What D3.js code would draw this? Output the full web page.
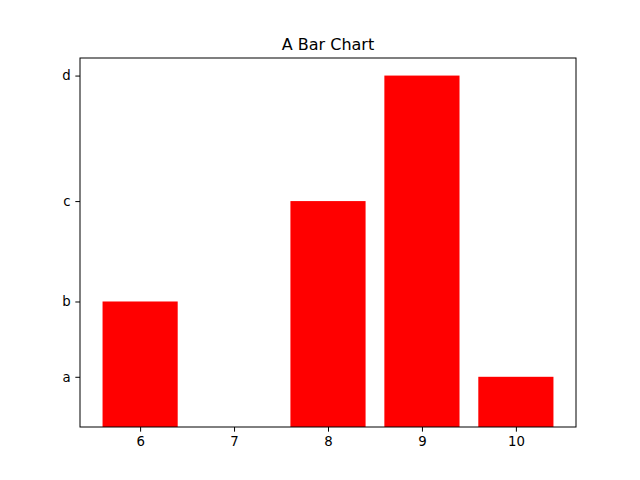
<!DOCTYPE html>
<html>
<head>
<meta charset="utf-8">
<script src="https://cdn.jsdelivr.net/npm/d3@7"></script>
<style>
  body { margin: 0; background: #fff; }
  svg { display: block; }
  text { font-family: "DejaVu Sans", sans-serif; }
</style>
</head>
<body>
<script>
const categories = [6, 7, 8, 9, 10];
const values = [5, 0, 9, 14, 2];
const yTickValues = [2, 5, 9, 14];
const yTickLabels = ["a", "b", "c", "d"];
const xTickValues = [6, 7, 8, 9, 10];
const title = "A Bar Chart";

const W = 640, H = 480;
const m = { left: 80, right: 64, top: 58, bottom: 53 };
const iw = W - m.left - m.right, ih = H - m.top - m.bottom;

const svg = d3.select("body").append("svg").attr("width", W).attr("height", H);
const g = svg.append("g").attr("transform", `translate(${m.left},${m.top})`);

const barW = 0.8;
const xmin = d3.min(categories) - barW / 2, xmax = d3.max(categories) + barW / 2;
const xpad = (xmax - xmin) * 0.05;
const x = d3.scaleLinear().domain([xmin - xpad, xmax + xpad]).range([0, iw]);
const y = d3.scaleLinear().domain([0, d3.max(values) * 1.05]).range([ih, 0]);

g.selectAll("rect.bar").data(categories).enter().append("rect")
  .attr("class", "bar")
  .attr("x", d => x(d - barW / 2))
  .attr("width", d => x(d + barW / 2) - x(d - barW / 2))
  .attr("y", (d, i) => y(values[i]))
  .attr("height", (d, i) => y(0) - y(values[i]))
  .attr("fill", "#ff0000");

const tickLen = 4.67, pad = 4.67, fs = 13.3;

const xAxis = d3.axisBottom(x).tickValues(xTickValues).tickSize(tickLen).tickPadding(pad).tickFormat(d3.format("d"));
const xa = g.append("g").attr("transform", `translate(0,${ih})`).call(xAxis);
const yAxis = d3.axisLeft(y).tickValues(yTickValues).tickSize(tickLen).tickPadding(pad).tickFormat((d, i) => yTickLabels[i]);
const ya = g.append("g").call(yAxis);
[xa, ya].forEach(a => {
  a.select(".domain").remove();
  a.selectAll("line").attr("stroke", "#000").attr("stroke-width", 1);
  a.selectAll("text").attr("font-size", fs).attr("fill", "#000").attr("font-family", "DejaVu Sans, sans-serif");
});

g.append("rect").attr("x", 0).attr("y", 0).attr("width", iw).attr("height", ih)
  .attr("fill", "none").attr("stroke", "#000").attr("stroke-width", 1);

svg.append("text").attr("x", m.left + iw / 2).attr("y", m.top - 8)
  .attr("text-anchor", "middle").attr("font-size", 16).attr("fill", "#000").text(title);
</script>
</body>
</html>
